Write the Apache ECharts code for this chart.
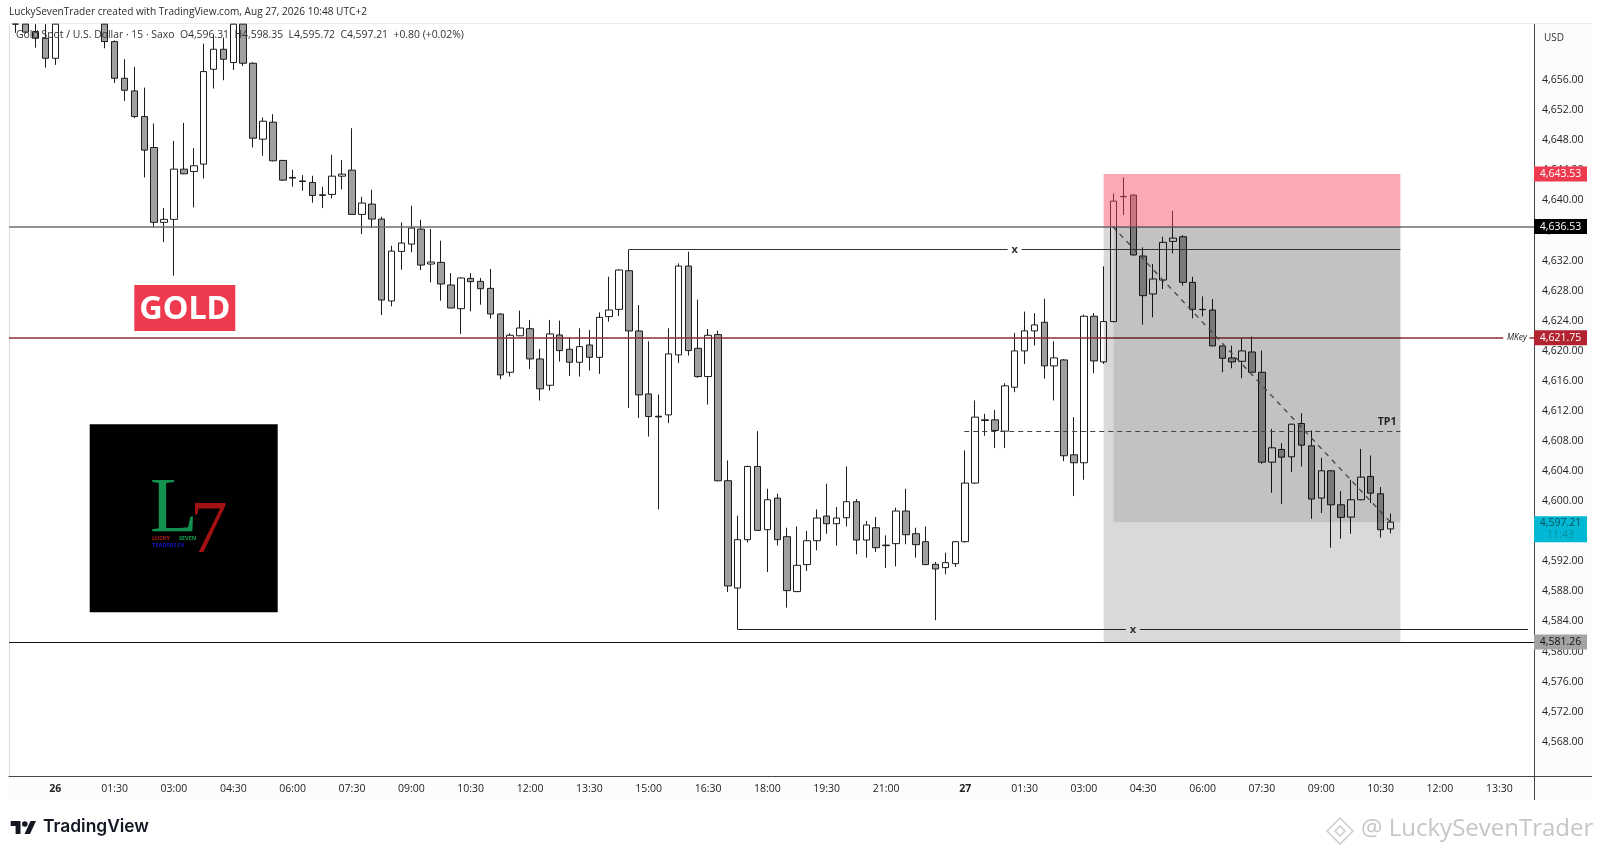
<!DOCTYPE html>
<html><head><meta charset="utf-8">
<style>html,body{margin:0;padding:0;background:#fff}#c{width:1600px;height:853px}</style>
<script src="https://cdn.jsdelivr.net/npm/echarts@6/dist/echarts.min.js"></script>
</head><body><div id="c"></div>
<script>
const firstSlot = -4;
const opens = [4663.46,4663.46,4662.47,4661.58,4658.92,null,null,null,null,4663.46,
4661.14,4656.26,4654.58,4651.17,4647.05,4637.09,4637.49,4644.17,4643.86,4644.84,
4657.46,4660.12,4658.35,4663.46,4658.26,4648.16,4650.42,4645.33,4643.07,4642.6,
4642.4,4640.76,4640.81,4643.24,4644.04,4638.15,4639.52,4637.53,4626.63,4633.23,
4634.2,4636.2,4631.55,4631.77,4628.76,4625.61,4629.64,4629.24,4628.31,4624.9,
4617.15,4622,4622.95,4618.92,4615.42,4622.11,4620.21,4618.48,4620.78,4619.14,
4624.55,4625.52,4630.66,4622.64,4614.27,4611.3,4611.48,4619.46,4631.28,4620.34,
4616.58,4622.16,4602.72,4588.45,4594.88,4604.62,4596.21,4600.41,4595.28,4587.97,
4591.56,4594.74,4598.02,4597.0,4597.8,4599.93,4594.83,4596.47,4594.16,4594.35,
4598.69,4595.67,4594.61,4591.6,4591.16,4591.69,4594.61,4602.41,4610.82,4610.82,
4609.32,4615.16,4619.99,4622.65,4623.8,4618.0,4618.79,4606.17,4605.11,4624.6,
4618.53,4623.89,4640.54,4640.72,4632.61,4627.56,4629.42,4634.56,4635.18,4629.11,
4625.52,4625.43,4620.65,4619.06,4618.61,4619.85,4617.15,4605.19,4606.88,4605.9,
4610.33,4607.36,4600.41,4604.04,4599.52,4597.88,4600.19,4603.29,4600.98,4596.31];
const highs = [4663.46,4663.46,4663.46,4663.46,4663.46,null,null,null,null,4663.46,
4661.3,4658.79,4657.77,4655.02,4650.24,4638.99,4647.94,4650.33,4646.96,4660.87,
4662.11,4661.67,4663.46,4663.46,4658.4,4651.04,4651.48,4645.4,4644.09,4643.38,
4643.29,4641.83,4646.08,4645.37,4649.62,4640.5,4641.43,4637.84,4633.98,4637.08,
4639.3,4637.44,4636.2,4634.65,4630.35,4629.75,4630.35,4629.69,4630.88,4625,
4622.33,4625.35,4624.11,4620.25,4624.11,4624.02,4621.8,4623,4622.78,4625.12,
4629.86,4630.85,4633.49,4626.1,4621.27,4614.19,4623,4631.63,4633.19,4626.81,
4622.91,4622.69,4605.42,4598.07,4604.72,4609.32,4601.65,4600.99,4596.47,4596.65,
4596.03,4598.91,4602.32,4599.22,4604.62,4600.28,4597.36,4597.89,4595.45,4599.13,
4601.65,4596.47,4596.65,4591.91,4593.15,4594.7,4606.75,4613.39,4611.62,4612.15,
4615.69,4622.38,4625.22,4625,4626.94,4621.28,4618.9,4611.18,4624.82,4625.04,
4631.24,4640.94,4643.07,4640.8,4633.76,4631.55,4635.18,4638.63,4635.4,4629.86,
4627.25,4626.89,4620.7,4620.69,4621.67,4621.89,4620.03,4609.62,4607.72,4610.3,
4611.7,4609.4,4605.77,4604.1,4601.34,4602.84,4606.96,4606.08,4601.87,4598.35];
const lows = [4662.3,4662.2,4660.34,4657.68,4658.04,null,null,null,null,4660.25,
4655.64,4653.25,4650.95,4643.07,4636.42,4634.47,4630,4643.5,4639.08,4642.93,
4654.89,4656,4657.37,4657.9,4647.05,4645.95,4645.2,4642.6,4641.83,4641.29,
4639.7,4638.99,4640.28,4641.47,4638.1,4635.54,4636.33,4624.77,4625.92,4630.79,
4633.1,4630.75,4629.11,4626.67,4625.65,4622.25,4625.26,4626.14,4624.28,4616.22,
4616.58,4621.95,4617.59,4613.39,4614.72,4618.57,4616.66,4616.58,4617.37,4616.93,
4623.88,4624.64,4612.41,4611.08,4608.6,4598.91,4610.38,4618.39,4619.37,4616.4,
4612.86,4602.65,4587.92,4582.92,4594.52,4596.05,4590.58,4594.12,4585.84,4587.9,
4590.71,4593.46,4595.67,4594.08,4596.65,4592.93,4592.49,4593.24,4591.11,4591.33,
4594.26,4592.49,4591.5,4584.16,4590.27,4591.25,4594.5,4602.3,4608.7,4607.06,
4607.06,4614.5,4618.26,4620.7,4616.31,4613.39,4605.33,4600.68,4602.85,4617.02,
4618.26,4623.8,4638.06,4632.7,4623.49,4624.46,4628.23,4632.96,4628.67,4624.33,
4624.59,4620.6,4617.15,4617.68,4616.35,4617.1,4604.97,4601.12,4599.61,4603.86,
4604.62,4597.66,4598.42,4593.81,4595.01,4595.67,4600.1,4599.74,4595.14,4595.72];
const closes = [4663.46,4662.4,4661.58,4658.92,4663.46,null,null,null,null,4661.14,
4656.26,4654.67,4651.17,4646.7,4637.09,4637.49,4644.17,4643.55,4644.62,4657.15,
4660.12,4658.79,4663.46,4658.26,4648.29,4650.55,4645.28,4642.71,4642.98,4642.52,
4640.67,4640.68,4643.24,4643.51,4638.15,4639.66,4637.53,4626.76,4633.27,4634.34,
4636.33,4631.41,4631.81,4628.89,4625.7,4629.69,4629.2,4628.27,4624.9,4616.8,
4622.07,4623.04,4618.92,4614.94,4622.25,4620.03,4618.48,4620.56,4619.14,4624.46,
4625.43,4630.75,4622.64,4614.14,4611.26,4611.2,4619.59,4631.28,4620.03,4616.58,
4622.07,4602.71,4588.72,4594.88,4604.62,4596.12,4600.19,4594.88,4588.1,4591.47,
4594.74,4597.76,4597,4597.76,4599.93,4594.83,4596.83,4593.81,4594.08,4598.69,
4595.54,4594.21,4591.56,4590.98,4591.82,4594.61,4602.41,4611.18,4610.74,4609.41,
4615.34,4619.99,4622.65,4623.45,4618,4619.06,4606.04,4605.11,4624.6,4618.66,
4623.89,4639.92,4640.5,4632.75,4627.34,4629.56,4634.43,4635,4629.11,4625.52,
4625.48,4620.65,4619.01,4618.52,4619.99,4617.15,4605.19,4607.1,4605.86,4610.24,
4607.45,4600.28,4604.04,4599.52,4597.84,4600.19,4603.2,4601.07,4596.2,4597.21];

const timeTickSlots = [0,6,12,18,24,30,36,42,48,54,60,66,72,78,84,92,98,104,110,116,122,128,134,140,146];
const timeTickLabels = ['26','01:30','03:00','04:30','06:00','07:30','09:00','10:30','12:00','13:30','15:00','16:30','18:00','19:30','21:00','27','01:30','03:00','04:30','06:00','07:30','09:00','10:30','12:00','13:30'];
const priceTicks = [4568,4572,4576,4580,4584,4588,4592,4596,4600,4604,4608,4612,4616,4620,4624,4628,4632,4636,4640,4644,4648,4652,4656];

const xMin = -4.68, xMax = 149.51, yMin = 4563.44, yMax = 4663.48;
const stopPrice = 4643.53, entryPrice = 4636.53, keyPrice = 4621.75, lastPrice = 4597.21, targetPrice = 4581.26;
const tp1Price = 4609.32, sweepHigh = 4633.49, sweepLow = 4582.92;
const zoneOuterStart = 106, zoneInnerStart = 107, zoneEnd = 136;
const sweepHighStart = 58, sweepHighEnd = 136, sweepLowStart = 69, sweepLowEnd = 148.9;

const fontUI = '"Open Sans","Noto Sans",sans-serif';
const candleData = opens.map((o,k)=> o===null ? null : [firstSlot+k, o, closes[k], lows[k], highs[k]]).filter(Boolean);
const fmt = v => v.toLocaleString('en-US',{minimumFractionDigits:2,maximumFractionDigits:2});
const seg = (x0,y0,x1,y1) => [{coord:[x0,y0]},{coord:[x1,y1]}];
const tag = (price,bg,color,h,text,dy,rich) => ({coord:[xMax,price],symbol:'rect',symbolSize:[53,h],symbolOffset:[26.5,dy||0],
  itemStyle:{color:bg},label:{show:true,position:'inside',formatter:text,color:color,fontSize:10.5,fontFamily:fontUI,lineHeight:12,rich:rich||{}}});
const xMark = (x,price,bg) => ({coord:[x,price],symbol:'rect',symbolSize:[14,11],itemStyle:{color:bg},
  label:{show:true,position:'inside',formatter:'x',color:'#333',fontSize:11,fontWeight:'bold',fontFamily:fontUI}});
const host = (name,z,extra) => Object.assign({type:'line',name:name,data:[],z:z,silent:true,animation:false},extra);
const lineSeg = (x0,y0,x1,y1,style,label) => { const s = seg(x0,y0,x1,y1); s[0].lineStyle = style; s[0].label = label || {show:false}; return s; };

const option = {
  animation:false,
  backgroundColor:'#fff',
  grid:{left:9,right:66,top:24,bottom:77},
  xAxis:{type:'value',min:xMin,max:xMax,splitLine:{show:false},
    axisLine:{show:true,onZero:false,lineStyle:{color:'#444',width:1}},axisTick:{show:false},
    axisLabel:{show:true,customValues:timeTickSlots,margin:8,fontSize:10.5,color:'#222',fontFamily:fontUI,
      rich:{d:{fontWeight:'bold',fontSize:10.5,color:'#222',fontFamily:fontUI}},
      formatter:v=>{const t=timeTickLabels[timeTickSlots.indexOf(v)];return t.length<=2?'{d|'+t+'}':t;}}},
  yAxis:{type:'value',position:'right',min:yMin,max:yMax,splitLine:{show:false},
    axisLine:{show:true,onZero:false,lineStyle:{color:'#444',width:1}},axisTick:{show:false},
    axisLabel:{show:true,customValues:priceTicks,margin:8,fontSize:10.5,color:'#222',fontFamily:fontUI,formatter:v=>fmt(v)}},
  series:[
    {type:'candlestick',name:'XAUUSD',data:candleData,encode:{x:0,y:[1,2,3,4]},barWidth:7,z:2,
      itemStyle:{color:'#ffffff',color0:'#a0a0a0',borderColor:'#1c1c1c',borderColor0:'#1c1c1c',borderWidth:1}},
    host('levels',3,{markLine:{z:4,silent:true,symbol:'none',animation:false,label:{show:false},data:[
      lineSeg(xMin,entryPrice,xMax,entryPrice,{color:'#6e6e6e',width:1.5,type:'solid'}),
      lineSeg(xMin,keyPrice,146.4,keyPrice,{color:'#8c2b35',width:1.5,type:'solid'}),
      lineSeg(149.05,keyPrice,xMax,keyPrice,{color:'#8c2b35',width:1.5,type:'solid'}),
      lineSeg(xMin,targetPrice,xMax,targetPrice,{color:'#111',width:1.2,type:'solid'})
    ]}}),
    host('zones',5,{markArea:{z:5,silent:true,animation:false,data:[
      [{coord:[zoneOuterStart,stopPrice],itemStyle:{color:'rgba(247,70,90,0.46)'}},{coord:[zoneEnd,entryPrice]}],
      [{coord:[zoneOuterStart,entryPrice],itemStyle:{color:'rgba(0,0,0,0.15)'}},{coord:[zoneEnd,targetPrice]}],
      [{coord:[zoneInnerStart,entryPrice],itemStyle:{color:'rgba(0,0,0,0.10)'}},{coord:[zoneEnd,lastPrice]}]
    ]},
    markLine:{z:6,silent:true,symbol:'none',animation:false,data:[
      lineSeg(sweepHighStart,sweepHigh,sweepHighEnd,sweepHigh,{color:'#333',width:1.1,type:'solid'}),
      lineSeg(sweepLowStart,sweepLow,sweepLowEnd,sweepLow,{color:'#222',width:1.1,type:'solid'}),
      lineSeg(91.9,tp1Price,136,tp1Price,{color:'#444',width:1,type:[5,4]},
        {show:true,position:'insideEndTop',formatter:'TP1',color:'#222',fontSize:10.5,fontWeight:'bold',distance:4,fontFamily:fontUI}),
      lineSeg(106.92,entryPrice,135,lastPrice,{color:'#444',width:1.3,type:[5,5]})
    ]}}),
    host('tags',8,{markPoint:{z:9,silent:true,animation:false,data:[
      xMark((sweepHighStart+sweepHighEnd)/2,sweepHigh,'#ffffff'),
      xMark((sweepLowStart+sweepLowEnd)/2,sweepLow,'#d9d9d9'),
      tag(stopPrice,'#ee3a4e','#fff',15,fmt(stopPrice)),
      tag(entryPrice,'#000','#fff',15,fmt(entryPrice)),
      tag(keyPrice,'#b2222f','#fff',15,fmt(keyPrice)),
      tag(lastPrice,'#00b8d4','#0b6f80',26,'{p|'+fmt(lastPrice)+'}\n{t|11:43}',7,
        {p:{color:'#07505e',fontSize:10.5,fontFamily:fontUI,lineHeight:12},t:{color:'#0a8fa3',fontSize:10.5,fontFamily:fontUI,lineHeight:12}}),
      tag(targetPrice,'#a3a3a3','#111',15,fmt(targetPrice))
    ]}})
  ],
  graphic:{elements:[
    {type:'rect',z:-1,shape:{x:1534,y:24,width:58,height:776},style:{fill:'#fcfcfc'}},
    {type:'rect',z:-1,shape:{x:9,y:776,width:1583,height:24},style:{fill:'#fcfcfc'}},
    {type:'line',z:1,shape:{x1:9,y1:23.5,x2:1592,y2:23.5},style:{stroke:'#ececec',lineWidth:1}},
    {type:'line',z:1,shape:{x1:9.5,y1:24,x2:9.5,y2:776},style:{stroke:'#dedede',lineWidth:1}},
    {type:'line',z:1,shape:{x1:1534.5,y1:776,x2:1534.5,y2:800},style:{stroke:'#444',lineWidth:1}},
    {type:'line',z:1,shape:{x1:1534,y1:776.5,x2:1592,y2:776.5},style:{stroke:'#444',lineWidth:1}},
    {type:'text',z:20,x:9,y:7,style:{text:'LuckySevenTrader created with TradingView.com, Aug 27, 2026 10:48 UTC+2',fill:'#2a2a2a',fontSize:10.1,fontFamily:fontUI}},
    {type:'text',z:20,x:16,y:30,style:{text:'Gold Spot / U.S. Dollar · 15 · Saxo  O4,596.31  H4,598.35  L4,595.72  C4,597.21  +0.80 (+0.02%)',fill:'#333',fontSize:10.4,fontFamily:fontUI}},
    {type:'text',z:20,x:1544,y:33,style:{text:'USD',fill:'#333',fontSize:10,fontFamily:fontUI}},
    {type:'text',z:20,x:1507,y:333,style:{text:'MKey',fill:'#222',fontSize:8.5,fontStyle:'italic',fontFamily:fontUI}},
    {type:'rect',z:10,shape:{x:134.3,y:285,width:101,height:46},style:{fill:'#ee3a4e'}},
    {type:'text',z:11,x:184.8,y:310,style:{text:'GOLD',fill:'#fff',fontSize:32.5,fontWeight:'bold',fontFamily:'"Noto Sans",sans-serif',textAlign:'center',textVerticalAlign:'middle'}},
    {type:'rect',z:10,shape:{x:89.7,y:424.3,width:188,height:188},style:{fill:'#000'}},
    {type:'text',z:11,x:150,y:472,style:{text:'L',fill:'#12914f',fontSize:78,fontFamily:'"Liberation Serif",serif'}},
    {type:'text',z:11,x:190,y:495,style:{text:'7',fill:'#a31212',fontSize:75,fontFamily:'"Liberation Serif",serif'}},
    {type:'text',z:12,x:152,y:535,style:{text:'LUCKY',fill:'#c01818',fontSize:5.5,fontWeight:'bold',fontFamily:fontUI}},
    {type:'text',z:12,x:179,y:535,style:{text:'SEVEN',fill:'#14a050',fontSize:5.5,fontWeight:'bold',fontFamily:fontUI}},
    {type:'text',z:12,x:152,y:542,style:{text:'TRADERS FX',fill:'#1515c8',fontSize:5.5,fontWeight:'bold',fontFamily:fontUI}},
    {type:'polygon',z:11,shape:{points:[[10.7,821],[20.5,821],[20.5,834],[15.6,834],[15.6,826],[10.7,826]]},style:{fill:'#131722'}},
    {type:'circle',z:11,shape:{cx:24.8,cy:824,r:2.8},style:{fill:'#131722'}},
    {type:'polygon',z:11,shape:{points:[[30.5,821],[36,821],[30,834],[24.5,834]]},style:{fill:'#131722'}},
    {type:'text',z:11,x:43,y:818,style:{text:'TradingView',fill:'#131722',fontSize:17.4,fontWeight:600,fontFamily:'Inter,sans-serif'}},
    {type:'polygon',z:11,shape:{points:[[1340,818],[1353,831],[1340,844],[1327,831]]},style:{fill:'none',stroke:'#cfcfcf',lineWidth:1.6}},
    {type:'polygon',z:11,shape:{points:[[1340,826],[1345,831],[1340,836],[1335,831]]},style:{fill:'none',stroke:'#cfcfcf',lineWidth:1.6}},
    {type:'text',z:11,x:1361,y:817,style:{text:'@ LuckySevenTrader',fill:'#c6c6c6',fontSize:24,fontFamily:'"Open Sans",sans-serif'}}
  ]}
};
echarts.init(document.getElementById('c'),null,{renderer:'canvas'}).setOption(option);
</script></body></html>
